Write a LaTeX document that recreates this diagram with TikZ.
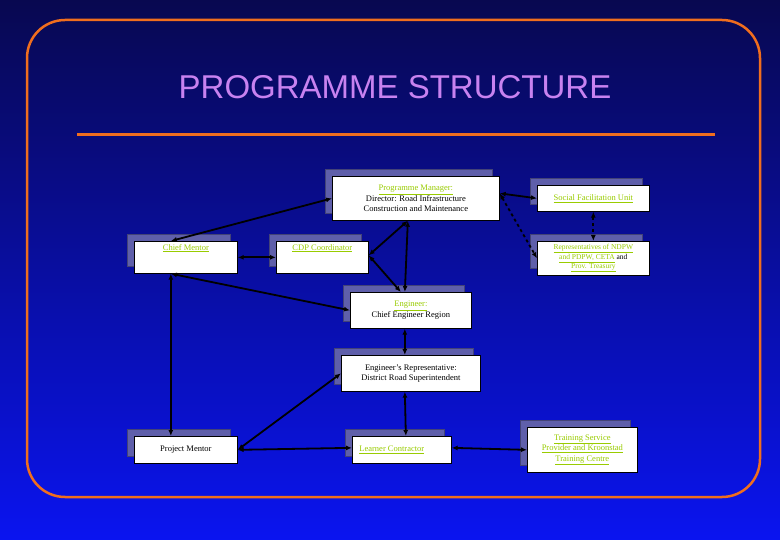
\documentclass[tikz,border=0pt]{standalone}
\usepackage{fontspec}
\setmainfont{Liberation Serif}
\newfontfamily\titlefont{Liberation Sans}
\usetikzlibrary{arrows.meta}
\definecolor{lnk}{RGB}{153,204,0}
\definecolor{ttl}{RGB}{200,130,240}
\definecolor{orng}{RGB}{240,110,30}
\definecolor{shd}{RGB}{95,95,170}
\definecolor{bgtop}{RGB}{8,8,80}
\definecolor{bgbot}{RGB}{10,20,240}
\newcommand{\lk}[1]{\textcolor{lnk}{\underline{#1}}}
\tikzset{
  box/.style={draw=black,fill=white,line width=0.7pt,align=center,font=\fontsize{8.5}{10.5}\selectfont,inner sep=0pt},
  shadowbox/.style={fill=shd,draw=shd!70!black,line width=0.4pt},
  arr/.style={{Latex[length=6pt,width=5pt]}-{Latex[length=6pt,width=5pt]},line width=1.8pt,black},
  darr/.style={arr,dashed}
}
\newcommand{\bx}[6]{% name, x1,y1,x2,y2, text
  \fill[shadowbox] (#2-7,#3-7) rectangle (#4-7,#5-7);
  \node[box,minimum width=#4-#2,minimum height=#5-#3,anchor=north west] (#1) at (#2,#3) {#6};}
\begin{document}
\begin{tikzpicture}[x=1pt,y=-1pt]
\shade[top color=bgtop,bottom color=bgbot] (0,0) rectangle (780,540);
\useasboundingbox (0,0) rectangle (780,540);
\draw[orng,line width=2.5pt,rounded corners=38pt] (27,20) rectangle (760,497);
\node[text=ttl,font=\titlefont\fontsize{33}{38}\selectfont] (title) at (395,87) {PROGRAMME STRUCTURE};
\draw[orng,line width=3pt] (77,135) -- (715,135);

\bx{pm}{332}{176}{499}{220}{\lk{Programme Manager:}\\Director: Road Infrastructure\\Construction and Maintenance}
\bx{sfu}{537}{185}{649}{211}{\lk{Social Facilitation Unit}}
\fill[shadowbox] (530,234) rectangle (642,268);
\node[box,minimum width=112,minimum height=34,anchor=north west,font=\fontsize{7.5}{9.5}\selectfont] (rep) at (537,241) {\lk{Representatives of NDPW}\\\lk{and PDPW, CETA} and\\\lk{Prov. Treasury}};
\bx{cm}{134}{241}{237}{273}{\lk{Chief Mentor}\\[10pt]}
\bx{cdp}{276}{241}{368}{273}{\lk{CDP Coordinator}\\[10pt]}
\bx{eng}{350}{292}{471}{328}{\lk{Engineer:}\\Chief Engineer Region}
\bx{er}{341}{355}{480}{391}{Engineer's Representative:\\District Road Superintendent}
\bx{pmn}{134}{436}{237}{463}{Project Mentor}
\bx{lc}{352}{436}{451}{463}{\hspace*{-20pt}\lk{Learner Contractor}}
\bx{tsp}{527}{427}{637}{472}{\lk{Training Service}\\\lk{Provider and Kroonstad}\\\lk{Training Centre}}

\draw[arr] (pm.west) -- ([xshift=-15pt]cm.north);
\draw[arr] (cm.east) -- (cdp.west);
\draw[arr] ([xshift=-8pt]pm.south) -- ([yshift=2pt]cdp.east);
\draw[arr] ([yshift=2pt]cdp.east) -- ([xshift=-10pt]eng.north);
\draw[arr] ([xshift=-8pt]pm.south) -- ([xshift=-6pt]eng.north);
\draw[arr] ([xshift=-15pt]cm.south) -- (eng.west);
\draw[arr] ([xshift=-15pt]cm.south) -- ([xshift=-15pt]pmn.north);
\draw[arr] ([xshift=-6pt]eng.south) -- ([xshift=-6pt]er.north);
\draw[arr] (er.west) -- (pmn.east);
\draw[arr] ([xshift=-6pt]er.south) -- ([xshift=4pt]lc.north);
\draw[arr] (pmn.east) -- ([yshift=2pt]lc.west);
\draw[arr] ([yshift=2pt]lc.east) -- (tsp.west);
\draw[arr] ([yshift=5pt]pm.east) -- (sfu.west);
\draw[darr] ([yshift=5pt]pm.east) -- (rep.west);
\draw[darr] (sfu.south) -- (rep.north);
\end{tikzpicture}
\end{document}
